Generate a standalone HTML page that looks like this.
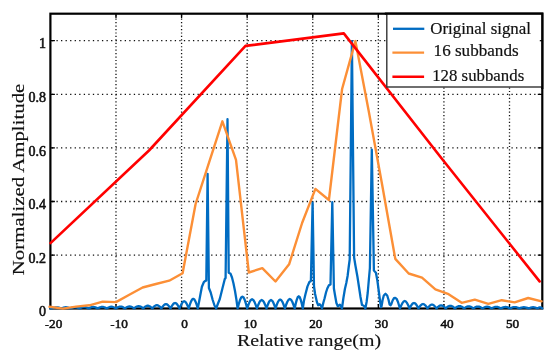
<!DOCTYPE html>
<html><head><meta charset="utf-8"><title>Normalized amplitude vs relative range</title>
<style>html,body{margin:0;padding:0;background:#fff;width:550px;height:358px;overflow:hidden}svg{display:block}</style>
</head><body>
<svg width="550" height="358" viewBox="0 0 550 358">
<rect width="550" height="358" fill="#fff"/>
<g stroke="#111" stroke-width="1.3" stroke-dasharray="1.2 2.24" fill="none"><line x1="115.99" y1="15.2" x2="115.99" y2="307.5"/><line x1="181.57" y1="15.2" x2="181.57" y2="307.5"/><line x1="247.16" y1="15.2" x2="247.16" y2="307.5"/><line x1="312.75" y1="15.2" x2="312.75" y2="307.5"/><line x1="378.33" y1="15.2" x2="378.33" y2="307.5"/><line x1="443.92" y1="15.2" x2="443.92" y2="307.5"/><line x1="509.51" y1="15.2" x2="509.51" y2="307.5"/></g>
<g stroke="#111" stroke-width="1.3" stroke-dasharray="1.3 3.25" fill="none"><line x1="51.9" y1="255.1" x2="541.3" y2="255.1"/><line x1="51.9" y1="201.5" x2="541.3" y2="201.5"/><line x1="51.9" y1="147.9" x2="541.3" y2="147.9"/><line x1="51.9" y1="94.3" x2="541.3" y2="94.3"/><line x1="51.9" y1="40.7" x2="541.3" y2="40.7"/></g>
<path d="M115.99 308.5V304M115.99 13.7V18.2M181.57 308.5V304M181.57 13.7V18.2M247.16 308.5V304M247.16 13.7V18.2M312.75 308.5V304M312.75 13.7V18.2M378.33 308.5V304M378.33 13.7V18.2M443.92 308.5V304M443.92 13.7V18.2M509.51 308.5V304M509.51 13.7V18.2M50.4 255.1H54.9M542.3 255.1H537.8M50.4 201.5H54.9M542.3 201.5H537.8M50.4 147.9H54.9M542.3 147.9H537.8M50.4 94.3H54.9M542.3 94.3H537.8M50.4 40.7H54.9M542.3 40.7H537.8" stroke="#000" stroke-width="1.3" fill="none"/>
<rect x="50.4" y="13.7" width="491.9" height="294.8" fill="none" stroke="#000" stroke-width="2.2"/>
<polyline points="50.5,308.4 50.71,308.02 50.93,307.69 51.14,307.48 51.35,307.4 51.56,307.48 51.78,307.69 51.99,308.02 52.2,308.4 53.34,308 54.48,307.65 55.61,307.42 56.75,307.34 57.89,307.42 59.03,307.65 60.16,308 61.3,308.4 62.44,307.97 63.58,307.6 64.71,307.36 65.85,307.27 66.99,307.36 68.13,307.6 69.26,307.97 70.4,308.4 71.54,307.94 72.68,307.55 73.81,307.29 74.95,307.2 76.09,307.29 77.23,307.55 78.36,307.94 79.5,308.4 80.64,307.91 81.78,307.49 82.91,307.21 84.05,307.11 85.19,307.21 86.33,307.49 87.46,307.91 88.6,308.4 89.74,307.87 90.88,307.41 92.01,307.11 93.15,307.01 94.29,307.11 95.43,307.41 96.56,307.87 97.7,308.4 98.84,307.82 99.98,307.33 101.11,307 102.25,306.89 103.39,307 104.53,307.33 105.66,307.82 106.8,308.4 107.94,307.77 109.08,307.23 110.21,306.87 111.35,306.74 112.49,306.87 113.63,307.23 114.76,307.77 115.9,308.4 117.04,307.7 118.18,307.11 119.31,306.71 120.45,306.57 121.59,306.71 122.73,307.11 123.86,307.7 125,308.4 126.14,307.62 127.28,306.96 128.41,306.52 129.55,306.36 130.69,306.52 131.83,306.96 132.96,307.62 134.1,308.4 135.24,307.52 136.38,306.77 137.51,306.27 138.65,306.09 139.79,306.27 140.93,306.77 142.06,307.52 143.2,308.4 144.34,307.38 145.48,306.52 146.61,305.95 147.75,305.74 148.89,305.95 150.03,306.52 151.16,307.38 152.3,308.4 153.44,307.18 154.58,306.14 155.71,305.44 156.85,305.2 157.99,305.44 159.12,306.14 160.26,307.18 161.4,308.4 162.54,306.75 163.68,305.36 164.81,304.43 165.95,304.1 167.09,304.43 168.22,305.36 169.36,306.75 170.5,308.4 171.64,306.33 172.78,304.58 173.91,303.41 175.05,303 176.19,303.41 177.33,304.58 178.46,306.33 179.6,308.4 180.74,305.64 181.88,303.31 183.01,301.75 184.15,301.2 185.29,301.75 186.43,303.31 187.56,305.64 188.7,308.4 189.84,304.73 190.98,301.61 192.11,299.53 193.25,298.8 194.39,299.53 195.53,301.61 196.66,304.73 197.8,308.4 199.4,300 200.6,293.5 201.9,286.8 203.8,282.2 205.3,280.8 206.3,280.6 207.6,173.8 208.9,288 210.7,292.5 212.7,300 214.5,305.5 216.2,308.4 218,303.5 219.8,299 222.4,288.5 224.8,279 225.6,278 227.5,119.2 228.7,272.8 230.6,273.8 232,277.5 233.5,283.5 235,291 236.4,299.5 237.6,308.4 238.8,303.88 240,300.06 241.2,297.5 242.4,296.6 243.6,297.5 244.8,300.06 246,303.88 247.2,308.4 248.41,304.88 249.62,301.89 250.84,299.9 252.05,299.2 253.26,299.9 254.47,301.89 255.69,304.88 256.9,308.4 258.1,305.19 259.3,302.46 260.5,300.64 261.7,300 262.9,300.64 264.1,302.46 265.3,305.19 266.5,308.4 267.62,305.19 268.75,302.46 269.88,300.64 271,300 272.12,300.64 273.25,302.46 274.38,305.19 275.5,308.4 276.68,305.03 277.85,302.18 279.02,300.27 280.2,299.6 281.38,300.27 282.55,302.18 283.72,305.03 284.9,308.4 286.12,304.8 287.35,301.75 288.57,299.72 289.8,299 291.02,299.72 292.25,301.75 293.47,304.8 294.7,308.4 295.71,303.77 296.73,299.84 297.74,297.22 298.75,296.3 299.76,297.22 300.77,299.84 301.79,303.77 302.8,308.4 304,300.5 305.5,294 307.5,286.4 309.4,282 310.9,281 312.6,202.6 314,286.5 315.1,293.9 316.9,302 318.2,305.3 319.7,304.3 321,305.8 322,308.4 323.4,302.5 324.6,298.3 326,292.5 327.3,288.5 328.9,285.3 330.5,284.4 332.3,202.2 333.9,288.5 334.9,294.5 336.4,303 337.8,306.2 339.9,304.8 341,306.2 342,308.4 343.4,298 344.9,289 346.3,283 347.6,276 348.7,267 349.7,259.5 351.9,41.1 354.1,257.5 355.5,266 357.4,276.5 359,287 360.5,297 362,305 363.4,305.5 364.5,306.5 365.4,308.4 366.6,302 367.7,293 368.9,279 369.9,268 371.8,149.6 373.9,270.5 375.9,272.7 377.3,280 378.5,289 379.6,297.5 380.4,303.5 381,307.2 381.6,306 382.6,300 383.8,295.5 385.5,293.8 387.2,295.5 388.6,300 389.6,304.5 390.5,305.2 391.4,304 392.6,300.5 394,298.2 395.3,297.8 396.6,298.8 398,302 399.2,306 400,308.4 401.19,305.57 402.38,303.17 403.56,301.56 404.75,301 405.94,301.56 407.12,303.17 408.31,305.57 409.5,308.4 410.62,306.33 411.75,304.58 412.88,303.41 414,303 415.12,303.41 416.25,304.58 417.38,306.33 418.5,308.4 419.62,306.72 420.75,305.29 421.88,304.33 423,304 424.12,304.33 425.25,305.29 426.38,306.72 427.5,308.4 428.62,306.91 429.75,305.64 430.88,304.8 432,304.5 433.12,304.8 434.25,305.64 435.38,306.91 436.5,308.4 437.65,307.24 438.8,306.26 439.95,305.6 441.1,305.37 442.25,305.6 443.4,306.26 444.55,307.24 445.7,308.4 446.85,307.39 448,306.54 449.15,305.96 450.3,305.76 451.45,305.96 452.6,306.54 453.75,307.39 454.9,308.4 456.05,307.51 457.2,306.75 458.35,306.25 459.5,306.07 460.65,306.25 461.8,306.75 462.95,307.51 464.1,308.4 465.25,307.6 466.4,306.93 467.55,306.48 468.7,306.32 469.85,306.48 471,306.93 472.15,307.6 473.3,308.4 474.45,307.68 475.6,307.08 476.75,306.67 477.9,306.53 479.05,306.67 480.2,307.08 481.35,307.68 482.5,308.4 483.65,307.75 484.8,307.2 485.95,306.83 487.1,306.7 488.25,306.83 489.4,307.2 490.55,307.75 491.7,308.4 492.85,307.81 494,307.3 495.15,306.97 496.3,306.85 497.45,306.97 498.6,307.3 499.75,307.81 500.9,308.4 502.05,307.86 503.2,307.39 504.35,307.09 505.5,306.98 506.65,307.09 507.8,307.39 508.95,307.86 510.1,308.4 511.25,307.9 512.4,307.47 513.55,307.19 514.7,307.09 515.85,307.19 517,307.47 518.15,307.9 519.3,308.4 520.45,307.94 521.6,307.54 522.75,307.28 523.9,307.19 525.05,307.28 526.2,307.54 527.35,307.94 528.5,308.4 529.65,307.97 530.8,307.6 531.95,307.36 533.1,307.27 534.25,307.36 535.4,307.6 536.55,307.97 537.7,308.4 538.28,307.99 538.85,307.64 539.42,307.41 540,307.33 540.58,307.41 541.15,307.64 541.72,307.99 542.3,308.4" fill="none" stroke="#006cc2" stroke-width="2.3" stroke-linejoin="round" stroke-linecap="round"/>
<polyline points="49.5,306.8 62.8,308.6 76.1,306.6 89.4,305.3 102.7,301.6 116,302.1 129.3,294.8 142.6,287.5 155.9,284 169.2,280.7 182.6,273.2 195.6,204 209.1,162.4 222.4,121.3 236,159.8 248.8,272.5 262.3,268.2 275.5,281.5 289.1,264.3 302.1,223 315.4,188.9 328.9,200 342.1,89 355.4,41.1 368.7,111 382,184 395.3,258.9 408.7,273.5 422,277.7 435.4,289.3 448.6,294.2 461.7,302.8 474.8,299.6 488.3,303.8 501.8,300.2 514.6,302.4 528.2,298 541.6,301.3" fill="none" stroke="#fc8f36" stroke-width="2.4" stroke-linejoin="round" stroke-linecap="round"/>
<polyline points="50.5,243.1 149,150.5 245.5,45.9 343.8,33.4 441.5,158.3 539.6,281.4" fill="none" stroke="#ff0000" stroke-width="2.6" stroke-linejoin="round" stroke-linecap="round"/>
<rect x="386.8" y="13.7" width="155.5" height="73.3" fill="#fff" stroke="#333" stroke-width="1.4"/>
<line x1="393" y1="28.8" x2="424.3" y2="28.8" stroke="#006cc2" stroke-width="2.3"/>
<line x1="392.4" y1="52.6" x2="424.1" y2="52.6" stroke="#fc8f36" stroke-width="2.2"/>
<line x1="392.4" y1="76.7" x2="424.1" y2="76.7" stroke="#ff0000" stroke-width="2.6"/>
<path d="M384.8 13.7H542.3V89" fill="none" stroke="#000" stroke-width="2.2"/>
<path d="M542.3 40.7H539.8" fill="none" stroke="#000" stroke-width="1.2"/>
<text x="430.2" y="34" font-family="Liberation Serif, serif" font-size="16.3" fill="#111" stroke="#111" stroke-width="0.2" textLength="100.8" lengthAdjust="spacingAndGlyphs">Original signal</text>
<text x="433.6" y="55.8" font-family="Liberation Serif, serif" font-size="16.3" fill="#111" stroke="#111" stroke-width="0.2" textLength="85" lengthAdjust="spacingAndGlyphs">16 subbands</text>
<text x="432.2" y="81.1" font-family="Liberation Serif, serif" font-size="16.3" fill="#111" stroke="#111" stroke-width="0.2" textLength="92" lengthAdjust="spacingAndGlyphs">128 subbands</text>
<text x="53.5" y="327.6" text-anchor="middle" font-family="Liberation Serif, serif" font-size="13.2" fill="#111" stroke="#111" stroke-width="0.55"><tspan stroke-width="0.2" dy="0.6">-</tspan><tspan dy="-0.6">20</tspan></text>
<text x="119.09" y="327.6" text-anchor="middle" font-family="Liberation Serif, serif" font-size="13.2" fill="#111" stroke="#111" stroke-width="0.55"><tspan stroke-width="0.2" dy="0.6">-</tspan><tspan dy="-0.6">10</tspan></text>
<text x="184.67" y="327.6" text-anchor="middle" font-family="Liberation Serif, serif" font-size="13.2" fill="#111" stroke="#111" stroke-width="0.55">0</text>
<text x="250.26" y="327.6" text-anchor="middle" font-family="Liberation Serif, serif" font-size="13.2" fill="#111" stroke="#111" stroke-width="0.55">10</text>
<text x="315.85" y="327.6" text-anchor="middle" font-family="Liberation Serif, serif" font-size="13.2" fill="#111" stroke="#111" stroke-width="0.55">20</text>
<text x="381.43" y="327.6" text-anchor="middle" font-family="Liberation Serif, serif" font-size="13.2" fill="#111" stroke="#111" stroke-width="0.55">30</text>
<text x="447.02" y="327.6" text-anchor="middle" font-family="Liberation Serif, serif" font-size="13.2" fill="#111" stroke="#111" stroke-width="0.55">40</text>
<text x="512.61" y="327.6" text-anchor="middle" font-family="Liberation Serif, serif" font-size="13.2" fill="#111" stroke="#111" stroke-width="0.55">50</text>
<text x="46" y="316.3" text-anchor="end" font-family="Liberation Serif, serif" font-size="14" fill="#111" stroke="#111" stroke-width="0.55">0</text>
<text x="46" y="262.7" text-anchor="end" font-family="Liberation Serif, serif" font-size="14" fill="#111" stroke="#111" stroke-width="0.55">0.2</text>
<text x="46" y="209.1" text-anchor="end" font-family="Liberation Serif, serif" font-size="14" fill="#111" stroke="#111" stroke-width="0.55">0.4</text>
<text x="46" y="155.5" text-anchor="end" font-family="Liberation Serif, serif" font-size="14" fill="#111" stroke="#111" stroke-width="0.55">0.6</text>
<text x="46" y="101.9" text-anchor="end" font-family="Liberation Serif, serif" font-size="14" fill="#111" stroke="#111" stroke-width="0.55">0.8</text>
<text x="46" y="48.3" text-anchor="end" font-family="Liberation Serif, serif" font-size="14" fill="#111" stroke="#111" stroke-width="0.55">1</text>
<text x="237" y="345.9" font-family="Liberation Serif, serif" font-size="17.6" fill="#111" stroke="#111" stroke-width="0.15" textLength="144" lengthAdjust="spacingAndGlyphs">Relative range(m)</text>
<text transform="translate(23.6,275.2) rotate(-90)" x="0" y="0" font-family="Liberation Serif, serif" font-size="17.6" fill="#111" stroke="#111" stroke-width="0.15" textLength="191.5" lengthAdjust="spacingAndGlyphs">Normalized Amplitude</text>
</svg>
</body></html>
